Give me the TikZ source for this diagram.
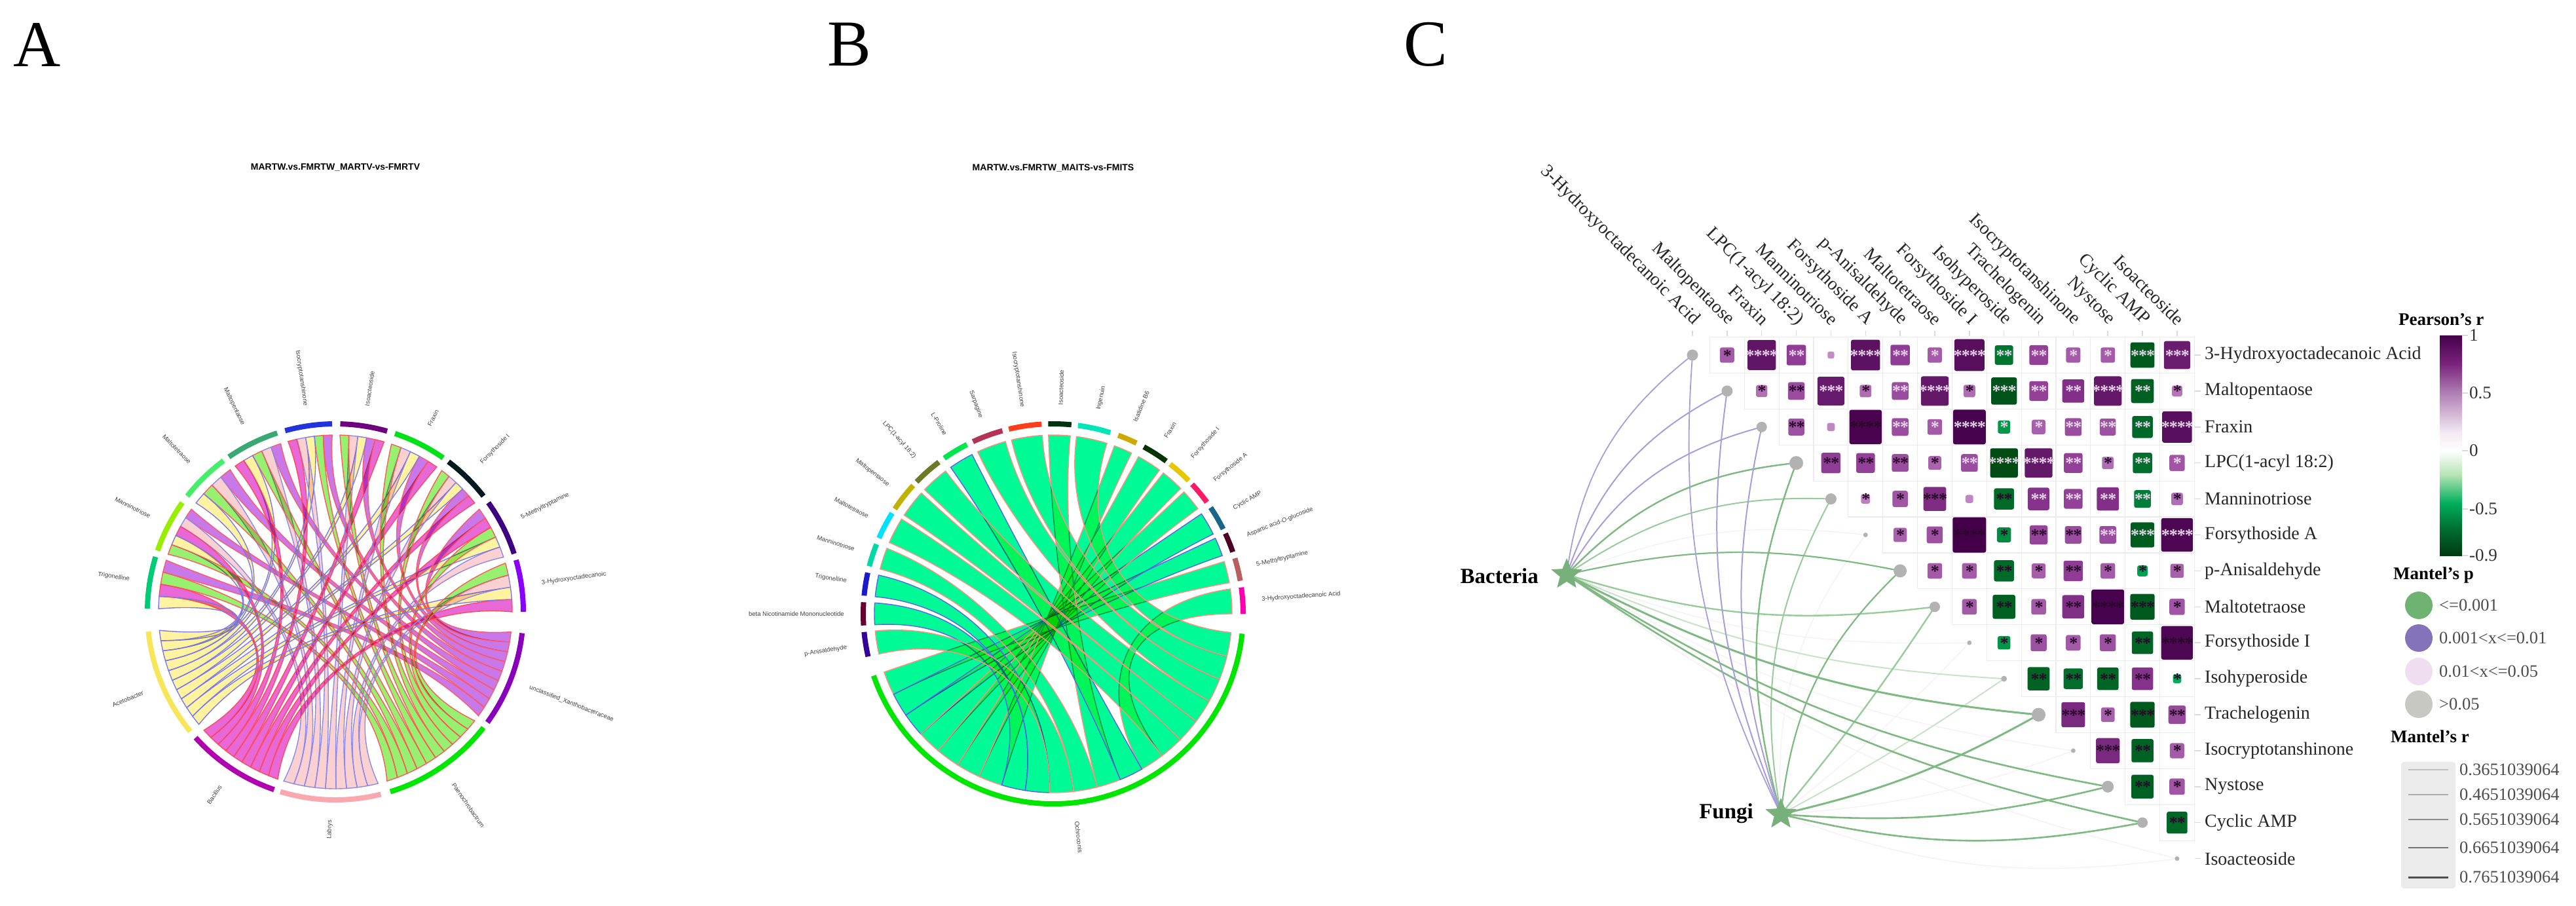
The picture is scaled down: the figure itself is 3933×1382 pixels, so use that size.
\documentclass[tikz,border=0pt]{standalone}
\usepackage{fontspec}
\setmainfont{Liberation Serif}
\newfontfamily\chordfont{Liberation Sans}
\usetikzlibrary{shapes.geometric,backgrounds}
\definecolor{colY}{HTML}{FFF3A0}
\definecolor{colM}{HTML}{E868D8}
\definecolor{colP}{HTML}{FBD0D0}
\definecolor{colG}{HTML}{98F070}
\definecolor{colV}{HTML}{C878E8}
\definecolor{bdY}{HTML}{7A7AEE}
\definecolor{bdM}{HTML}{FF4A5A}
\definecolor{bdP}{HTML}{8A8AEE}
\definecolor{bdG}{HTML}{FF5A5A}
\definecolor{bdV}{HTML}{FF5A6A}
\definecolor{chordB}{HTML}{00FA96}
\definecolor{starwhite}{HTML}{E8D5EA}
\definecolor{stardark}{HTML}{2A0A2A}
\definecolor{linkpurple}{HTML}{A89DD8}
\definecolor{linkgreen}{HTML}{7DB981}
\definecolor{linkmid}{HTML}{98CB9A}
\definecolor{linklight}{HTML}{C6E3C6}
\definecolor{linkpink}{HTML}{F6EDF5}
\newcount\slotY \newcount\slotM \newcount\slotP \newcount\slotG \newcount\slotV
\def\msY{186}\def\mwY{3.35}\def\mcY{202.75}
\def\msM{222}\def\mwM{3.222}\def\mcM{236.5}
\def\msP{253}\def\mwP{3.444}\def\mcP{268.5}
\def\msG{287}\def\mwG{3.5}\def\mcG{304.5}
\def\msV{324}\def\mwV{3.278}\def\mcV{338.75}
% ribbon: fill style, draw style, a1 a2 b1 b2 radius; control angles in \ctlAa \ctlAb \ctlBa \ctlBb, control radius in \rcin
\newcommand\ribbon[7]{%
  \def\ribpath{(#3:#7pt) arc[start angle=#3,end angle=#4,radius=#7pt]
    .. controls (\ctlAb:\rcin pt) and (\ctlBa:\rcin pt) .. (#5:#7pt)
    arc[start angle=#5,end angle=#6,radius=#7pt]
    .. controls (\ctlBb:\rcin pt) and (\ctlAa:\rcin pt) .. cycle}%
  \path[blend mode=multiply,fill=#1] \ribpath;
  \path[draw=#2,line width=1.4pt] \ribpath;}
\tikzset{
  ringseg/.style={line width=8pt},
  chordlab/.style={font=\chordfont\fontsize{9.5}{10}\selectfont,text=black!75,inner sep=0pt},
  charttitle/.style={font=\chordfont\bfseries\fontsize{14}{14}\selectfont,inner sep=0pt},
  panel/.style={font=\fontsize{100}{100}\selectfont,inner sep=0pt},
  hlab/.style={font=\fontsize{28}{28}\selectfont,text=black!85,inner sep=0pt},
  gridl/.style={draw=black!8,line width=1.2pt},
  tickl/.style={draw=black!15,line width=1.5pt},
  cellbox/.style={rectangle,rounded corners=3pt,inner sep=0pt,outer sep=0pt,draw=none},
  starl/.style={font=\bfseries\fontsize{26}{26}\selectfont,inner sep=0pt},
  dotn/.style={circle,fill=black!30,inner sep=0pt,outer sep=0pt},
  envstar/.style={star,star points=5,star point ratio=2.3,fill=linkgreen!95!black,inner sep=0pt,outer sep=0pt,minimum size=50pt},
  envlab/.style={font=\bfseries\fontsize{33}{33}\selectfont,inner sep=0pt},
  legtitle/.style={font=\bfseries\fontsize{27}{27}\selectfont,inner sep=0pt,anchor=west},
  legtext/.style={font=\fontsize{26.5}{27}\selectfont,text=black!70,inner sep=0pt,anchor=west},
  legdot/.style={circle,inner sep=0pt,outer sep=0pt,minimum size=42pt},
}
\begin{document}
\begin{tikzpicture}[x=1pt,y=-1pt]
\useasboundingbox (0,0) rectangle (3933,1382);
\node[panel] (pa) at (57,68) {A};
\node[panel] (pb) at (1297,68) {B};
\node[panel] (pc) at (2177,68) {C};
\node[charttitle] (ta) at (512,256) {MARTW.vs.FMRTW\_MARTV-vs-FMRTV};
\node[charttitle] (tb) at (1608,256) {MARTW.vs.FMRTW\_MAITS-vs-FMITS};

% ---------- Panel A
\begin{scope}[shift={(512,934)},y=1pt]
\pgfmathsetmacro\rcin{270*0.42}
\foreach \sa/\sb/\ncol/\lst in {
  163/179/4/{V,G,M,Y},
  144.5/161/5/{V,P,M,Y,G},
  126.5/142/4/{V,P,G,Y},
  108/124.5/5/{V,P,G,Y,M},
  91/105.5/5/{V,G,Y,P,M},
  74/88.5/5/{M,V,Y,P,G},
  55/71.5/5/{M,V,Y,P,G},
  38/53/5/{M,V,Y,P,G},
  18/35.5/5/{P,Y,G,M,V},
  0/16/4/{M,Y,P,G}}{
  \pgfmathsetmacro\ctlAa{(\sa+\sb)/2}
  \let\ctlAb\ctlAa
  \foreach \mm [count=\ii from 0] in \lst {
    \pgfmathsetmacro\aa{\sa+\ii*(\sb-\sa)/\ncol}
    \pgfmathsetmacro\ab{\aa+(\sb-\sa)/\ncol}
    \edef\thisslot{\the\csname slot\mm\endcsname}
    \pgfmathsetmacro\ba{\csname ms\mm\endcsname+\thisslot*\csname mw\mm\endcsname}
    \pgfmathsetmacro\bb{\ba+\csname mw\mm\endcsname}
    \global\advance\csname slot\mm\endcsname by 1
    \edef\ctlBa{\csname mc\mm\endcsname}
    \let\ctlBb\ctlBa
    \ribbon{col\mm}{bd\mm}{\aa}{\ab}{\ba}{\bb}{270}
  }
}
\foreach \sa/\sb/\cc/\nm in {
  0/16/8A00FF/3-Hydroxyoctadecanoic,
  18/35.5/3D0080/5-Methyltryptamine,
  38/53/00191F/Forsythoside I,
  55/71.5/00E11A/Fraxin,
  74/88.5/6F0080/Isoacteoside,
  91/105.5/2233DD/Isocryptotanshinone,
  108/124.5/3AA874/Maltopentaose,
  126.5/142/44EE6A/Maltotetraose,
  144.5/161/99EE00/Manninotriose,
  163/179/00CC77/Trigonelline,
  186/219.5/F7E65A/Acetobacter,
  222/251/B000B0/Bacillus,
  253/284/F9A9AE/Labrys,
  287/322/00E600/Paenochrobactrum,
  324/353.5/8800BB/unclassified\_Xanthobacteraceae}{
  \definecolor{ringc}{HTML}{\cc}
  \draw[ringseg,draw=ringc] (\sa:287pt) arc[start angle=\sa,end angle=\sb,radius=287pt];
  \pgfmathsetmacro\mid{(\sa+\sb)/2}
  \pgfmathparse{(\mid>90 && \mid<270) ? 1 : 0}
  \ifnum\pgfmathresult=1
    \pgfmathsetmacro\rot{\mid+180}
    \node[chordlab,rotate=\rot,anchor=east] (la\sa) at (\mid:318pt) {\nm};
  \else
    \node[chordlab,rotate=\mid,anchor=west] (la\sa) at (\mid:318pt) {\nm};
  \fi
}
\end{scope}

% ---------- Panel B
\begin{scope}[shift={(1608,937)},y=1pt]
\pgfmathsetmacro\rcin{273*0.42}
\foreach \sa/\sb/\st/\bd in {
  0/8/7/FF9080, 10/17/20/FF9080, 19/25/19/6060EE, 26.5/34/18/6060EE, 36/43/17/FF9080,
  44.5/52/16/FF9080, 53.5/61.5/15/FF9080, 64/70/14/FF9080, 72.5/82.5/1/FF9080, 84.5/91.5/9/FF9080,
  93.5/103.5/2/FF9080, 105.5/115/3/FF9080, 117/125/8/6060EE, 127/136/4/FF9080, 137.5/146.5/5/FF9080,
  148/156.5/6/FF9080, 158.5/165.5/10/FF9080, 167.5/174.5/12/6060EE, 176.5/183.5/13/6060EE, 185.5/193/11/FF9080}{
  \definecolor{bordc}{HTML}{\bd}
  \pgfmathsetmacro\ba{354-\st*7.75}
  \pgfmathsetmacro\bb{\ba+7.75}
  \let\ctlAa\sa \let\ctlAb\sb \let\ctlBa\ba \let\ctlBb\bb
  \ribbon{chordB}{bordc}{\sa}{\sb}{\ba}{\bb}{273}
}
\foreach \sa/\sb/\cc/\nm in {
  0/8/FF00B0/3-Hydroxyoctadecanoic Acid,
  10/17/B86060/5-Methyltryptamine,
  19/25/4D0026/Aspartic acid-\textit{O}-glucoside,
  26.5/34/1A6688/Cyclic AMP,
  36/43/FF1A66/Forsythoside A,
  44.5/52/E6C800/Forsythoside I,
  53.5/61.5/003300/Fraxin,
  64/70/CCAA00/Isatidine B6,
  72.5/82.5/00E6B8/Ingenuin,
  84.5/91.5/003311/Isoacteoside,
  93.5/103.5/FF3D1A/Isocryptotanshinone,
  105.5/115/B33355/Sarpagine,
  117/125/00E64D/L-Proline,
  127/136/6B7A26/LPC(1-acyl 18:2),
  137.5/146.5/BFB300/Maltopentaose,
  148/156.5/00E0FF/Maltotetraose,
  158.5/165.5/00D9A6/Manninotriose,
  167.5/174.5/1A1ACC/Trigonelline,
  176.5/183.5/660033/beta Nicotinamide Mononucleotide,
  185.5/193/330099/p-Anisaldehyde,
  199/354/00E600/Ochroconis}{
  \definecolor{ringc}{HTML}{\cc}
  \draw[ringseg,draw=ringc] (\sa:290pt) arc[start angle=\sa,end angle=\sb,radius=290pt];
  \pgfmathsetmacro\mid{(\sa+\sb)/2}
  \pgfmathparse{(\mid>90 && \mid<270) ? 1 : 0}
  \ifnum\pgfmathresult=1
    \pgfmathsetmacro\rot{\mid+180}
    \node[chordlab,rotate=\rot,anchor=east] (lb\sa) at (\mid:319pt) {\nm};
  \else
    \node[chordlab,rotate=\mid,anchor=west] (lb\sa) at (\mid:319pt) {\nm};
  \fi
}
\end{scope}

% ---------- Panel C: grid
\foreach \rr in {0,...,13}{
  \pgfmathtruncatemacro\cs{\rr+1}
  \foreach \cc in {\cs,...,14}{
    \pgfmathsetmacro\xx{2584+52.85*\cc}
    \pgfmathsetmacro\yy{542+54.9*\rr}
    \draw[gridl] ({\xx-26.42},{\yy-27.45}) rectangle ({\xx+26.42},{\yy+27.45});
  }
}
% labels and ticks
\foreach \nm [count=\ii from 0] in {3-Hydroxyoctadecanoic Acid,Maltopentaose,Fraxin,LPC(1-acyl 18:2),Manninotriose,Forsythoside A,p-Anisaldehyde,Maltotetraose,Forsythoside I,Isohyperoside,Trachelogenin,Isocryptotanshinone,Nystose,Cyclic AMP,Isoacteoside}{
  \pgfmathsetmacro\xx{2584+52.85*\ii}
  \pgfmathsetmacro\yy{542+54.9*\ii}
  \draw[tickl] (\xx,505) -- (\xx,513);
  \draw[tickl] (3351,\yy) -- (3360,\yy);
  \node[hlab,anchor=west] (rl\ii) at (3366,\yy) {\nm};
  \node[hlab,anchor=east,rotate=-45] (tl\ii) at ({\xx+6},492) {\nm};
}
% cells: col / value / stars / white?
\foreach \rr/\cells in {
 0/{1/.43/1/0,2/.85/4/1,3/.58/2/1,4/.2/0/0,5/.87/4/1,6/.58/2/1,7/.43/1/1,8/.9/4/1,9/-.55/2/1,10/.56/2/1,11/.43/1/1,12/.43/1/1,13/-.72/3/1,14/.79/3/1},
 1/{2/.34/1/0,3/.5/2/0,4/.81/3/1,5/.35/1/0,6/.5/2/1,7/.83/4/1,8/.35/1/0,9/-.77/3/1,10/.56/2/1,11/.66/2/1,12/.83/4/1,13/-.68/2/1,14/.31/1/0},
 2/{3/.48/2/0,4/.23/0/0,5/.97/4/0,6/.5/2/1,7/.44/1/1,8/.98/4/1,9/-.37/1/1,10/.41/1/1,11/.5/2/1,12/.48/2/1,13/-.62/2/1,14/.89/4/1},
 3/{4/.58/2/0,5/.56/2/0,6/.5/2/0,7/.39/1/0,8/.5/2/1,9/-.83/4/1,10/.83/4/1,11/.56/2/1,12/.35/1/0,13/-.58/2/1,14/.46/1/1},
 4/{5/.27/1/0,6/.46/1/0,7/.68/3/0,8/.23/0/0,9/-.6/2/0,10/.64/2/1,11/.56/2/1,12/.66/2/1,13/-.5/2/1,14/.35/1/0},
 5/{6/.4/1/0,7/.48/1/0,8/1/4/0,9/-.42/1/0,10/.54/2/0,11/.5/2/0,12/.5/2/1,13/-.71/3/1,14/.95/4/1},
 6/{7/.44/1/0,8/.44/1/0,9/-.6/2/0,10/.42/1/0,11/.58/2/0,12/.44/1/0,13/-.31/1/0,14/.4/1/0},
 7/{8/.44/1/0,9/-.68/2/0,10/.44/1/0,11/.66/2/0,12/.98/4/0,13/-.73/3/0,14/.46/1/0},
 8/{9/-.38/1/0,10/.48/1/0,11/.44/1/0,12/.48/1/0,13/-.64/2/0,14/.95/4/0},
 9/{10/-.66/2/0,11/-.58/2/0,12/-.64/2/0,13/.64/2/0,14/-.25/1/0},
 10/{11/.71/3/0,12/.41/1/0,13/-.73/3/0,14/.52/2/0},
 11/{12/.71/3/0,13/-.66/2/0,14/.43/1/0},
 12/{13/-.67/2/0,14/.46/1/0},
 13/{14/-.62/2/0}}{
  \foreach \cc/\vv/\nn/\ww in \cells {
    \pgfmathsetmacro\xx{2584+52.85*\cc}
    \pgfmathsetmacro\yy{542+54.9*\rr}
    \pgfmathsetmacro\sz{abs(\vv)}
    \pgfmathparse{\vv<0 ? 1 : 0}
    \ifnum\pgfmathresult=1
      \pgfmathsetmacro\cG{.68-.26*(min(\sz,.6)-.25)/.35-.22*(max(\sz,.6)-.6)/.4}
      \pgfmathsetmacro\cB{.35-.19*(min(\sz,.6)-.25)/.35-.14*(max(\sz,.6)-.6)/.4}
      \definecolor{cellc}{rgb}{0,\cG,\cB}
    \else
      \pgfmathsetmacro\cR{.77-.22*(min(\sz,.6)-.2)/.4-.28*(max(\sz,.6)-.6)/.4}
      \pgfmathsetmacro\cG{.55-.33*(min(\sz,.6)-.2)/.4-.22*(max(\sz,.6)-.6)/.4}
      \pgfmathsetmacro\cB{.78-.21*(min(\sz,.6)-.2)/.4-.28*(max(\sz,.6)-.6)/.4}
      \definecolor{cellc}{rgb}{\cR,\cG,\cB}
    \fi
    \node[cellbox,fill=cellc,minimum width={\sz*51pt},minimum height={\sz*54pt}] (cell-\rr-\cc) at (\xx,\yy) {};
    \ifnum\nn>0
      \ifnum\ww=1 \def\stc{starwhite}\else \def\stc{stardark}\fi
      \gdef\sts{}
      \foreach \k in {1,...,\nn}{\xdef\sts{\sts *\kern-1pt}}
      \node[starl,text=\stc] (st-\rr-\cc) at (\xx,{\yy+0.5}) {\sts};
    \fi
  }
}
% Mantel dots
\foreach \rr/\ds in {0/17,1/17,2/16,3/21,4/17,5/7,6/20,7/16,8/7,9/9,10/21,11/7,12/18,13/16,14/7}{
  \pgfmathsetmacro\xx{2584+52.85*\rr}
  \pgfmathsetmacro\yy{542+54.9*\rr}
  \node[dotn,minimum size=\ds pt] (d\rr) at (\xx,\yy) {};
}
\node[envstar] (bac) at (2392,877) {};
\node[envstar] (fun) at (2719,1243) {};
\node[envlab,anchor=east] (bact) at (2349,879) {Bacteria};
\node[envlab,anchor=east] (funt) at (2677,1242) {Fungi};
\begin{scope}[on background layer]
\foreach \rr/\cl/\lw/\ba/\bb in {
  14/linkpink/1.2/-11/-14, 11/linkpink/1.2/-11/-8, 8/linkpink/1.2/-11/-4, 5/linkpink/1.2/14/20,
  9/linklight/2/-10/-3, 7/linkmid/2.4/-12/-3, 4/linkmid/2/18/19, 6/linkgreen/2.2/12/20,
  3/linkgreen/2.4/20/18, 10/linkgreen/3/-11/-8, 12/linkgreen/2.6/-11/-9, 13/linkgreen/2.6/-11/-12,
  0/linkpurple/1.8/22/15, 1/linkpurple/2/22/15, 2/linkpurple/2/22/15}{
  \draw[draw=\cl,line width=\lw pt] (bac.center) to[bend left=\ba] (d\rr.center);
  \draw[draw=\cl,line width=\lw pt] (fun.center) to[bend left=\bb] (d\rr.center);
}
\end{scope}

% ---------- Legends
\node[legtitle] (lp) at (3662,488) {Pearson's r};
\definecolor{cb1}{HTML}{45004A}\definecolor{cb2}{HTML}{7B247D}\definecolor{cb3}{HTML}{B07FB5}
\definecolor{cb4}{HTML}{F3E9F3}\definecolor{cb5}{HTML}{FFFFFF}\definecolor{cb6}{HTML}{B5E3B4}
\definecolor{cb7}{HTML}{00AE5C}\definecolor{cb8}{HTML}{006A2E}\definecolor{cb9}{HTML}{003A12}
\foreach \ya/\yb/\ca/\cb in {512/556/cb1/cb2,556/600/cb2/cb3,600/660/cb3/cb4,660/688/cb4/cb5,688/725/cb5/cb6,725/768/cb6/cb7,768/810/cb7/cb8,810/848/cb8/cb9}{
  \fill[top color=\ca,bottom color=\cb,shading angle=0] (3725,\ya) rectangle (3759,\yb);
}
\foreach \yy/\tx in {512/1,600/0.5,688/0,777/-0.5,848/-0.9}{
  \draw[tickl] (3759,\yy) -- (3768,\yy);
  \node[font=\fontsize{27}{27}\selectfont,text=black!80,inner sep=0pt,anchor=west] (cbl\yy) at (3770,\yy) {\tx};
}
\node[legtitle] (lm) at (3654,878) {Mantel's p};
\foreach \yy/\cc/\tx in {924/6FB372/{<=0.001},974/8472BB/{0.001<x<=0.01},1025/EFDEF0/{0.01<x<=0.05},1075/C8C8C2/{>0.05}}{
  \definecolor{legc}{HTML}{\cc}
  \node[legdot,fill=legc] (ld\yy) at (3693,\yy) {};
  \node[legtext] (lt\yy) at (3724,\yy) {\tx};
}
\node[legtitle] (lr) at (3650,1124) {Mantel's r};
\fill[black!8,rounded corners=4pt] (3666,1163) rectangle (3749,1356);
\foreach \yy/\gv/\lw/\tx in {1175/25/1.2/0.3651039064,1213/32/1.6/0.4651039064,1251/45/2/0.5651039064,1294/55/2.5/0.6651039064,1339/70/3/0.7651039064}{
  \draw[draw=black!\gv,line width=\lw pt] (3677,\yy) -- (3738,\yy);
  \node[legtext] (lk\yy) at (3755,\yy) {\tx};
}
\end{tikzpicture}
\end{document}
